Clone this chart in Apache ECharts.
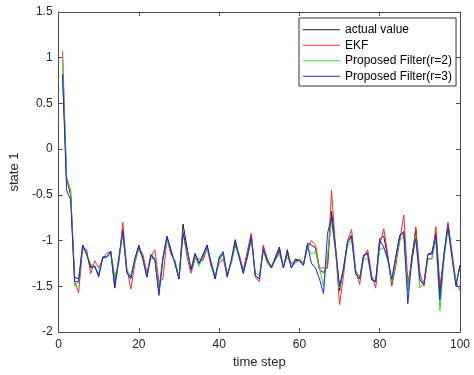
<!DOCTYPE html>
<html>
<head>
<meta charset="utf-8">
<script src="https://cdn.jsdelivr.net/npm/echarts@6/dist/echarts.min.js"></script>
<style>html,body{margin:0;padding:0;background:#fff}#c{width:474px;height:375px}</style>
</head>
<body>
<div id="c"></div>
<script>
const timeSteps = Array.from({length: 100}, (_, i) => i + 1);
const xTicks = [0, 20, 40, 60, 80, 100];
const yTicks = [-2, -1.5, -1, -0.5, 0, 0.5, 1, 1.5];
const seriesNames = ['actual value', 'EKF', 'Proposed Filter(r=2)', 'Proposed Filter(r=3)'];

const actualValue = [
  0.82, -0.32, -0.5, -1.4, -1.42, -1.05, -1.15, -1.28, -1.28, -1.38,
  -1.18, -1.18, -1.12, -1.52, -1.2, -0.88, -1.35, -1.4, -1.2, -1.05,
  -1.2, -1.4, -1.15, -1.2, -1.55, -1.18, -0.96, -1.1, -1.25, -1.42,
  -0.82, -1.08, -1.32, -1.14, -1.25, -1.15, -1.05, -1.25, -1.42, -1.2,
  -1.14, -1.4, -1.22, -0.99, -1.18, -1.36, -1.18, -0.94, -1.38, -1.42,
  -1.07, -1.2, -1.3, -1.18, -1.07, -1.3, -1.1, -1.3, -1.2, -1.22,
  -1.27, -1.03, -1.05, -1.08, -1.32, -1.35, -1.28, -0.68, -1.07, -1.55,
  -1.3, -1.0, -0.94, -1.36, -1.42, -1.16, -1.13, -1.43, -1.45, -0.98,
  -0.95, -1.18, -1.48, -1.18, -0.94, -0.9, -1.55, -1.18, -0.88, -1.43,
  -1.48, -1.15, -1.13, -0.92, -1.55, -1.15, -0.82, -1.17, -1.48, -1.27
];
const ekf = [
  1.07, -0.35, -0.45, -1.45, -1.57, -1.08, -1.1, -1.36, -1.22, -1.3,
  -1.2, -1.14, -1.12, -1.4, -1.25, -0.8, -1.3, -1.53, -1.25, -1.08,
  -1.15, -1.35, -1.18, -1.1, -1.45, -1.42, -0.98, -1.15, -1.22, -1.4,
  -0.9, -1.18, -1.36, -1.2, -1.2, -1.22, -1.08, -1.28, -1.38, -1.25,
  -1.2, -1.38, -1.25, -1.05, -1.15, -1.32, -1.12, -0.92, -1.4, -1.45,
  -1.05, -1.22, -1.28, -1.2, -1.12, -1.28, -1.15, -1.25, -1.23, -1.2,
  -1.25, -1.08, -1.0, -1.05, -1.3, -1.3, -1.3, -0.45, -1.1, -1.7,
  -1.38, -1.0, -0.88, -1.32, -1.48, -1.18, -1.1, -1.38, -1.52, -1.05,
  -0.87, -1.15, -1.5, -1.28, -1.0, -0.72, -1.45, -1.25, -0.85, -1.35,
  -1.5, -1.2, -1.2, -0.85, -1.5, -1.22, -0.8, -1.12, -1.45, -1.55
];
const filterR2 = [
  0.98, -0.3, -0.45, -1.5, -1.45, -1.08, -1.15, -1.25, -1.3, -1.35,
  -1.2, -1.18, -1.15, -1.42, -1.22, -0.92, -1.32, -1.38, -1.22, -1.1,
  -1.2, -1.38, -1.2, -1.2, -1.58, -1.2, -1.0, -1.12, -1.25, -1.4,
  -0.92, -1.12, -1.3, -1.18, -1.28, -1.18, -1.1, -1.22, -1.38, -1.22,
  -1.15, -1.36, -1.25, -1.05, -1.2, -1.32, -1.2, -1.0, -1.35, -1.38,
  -1.12, -1.25, -1.3, -1.22, -1.15, -1.28, -1.18, -1.28, -1.25, -1.2,
  -1.25, -1.08, -1.15, -1.12, -1.3, -1.5, -1.15, -0.78, -1.12, -1.52,
  -1.3, -1.05, -1.0, -1.32, -1.4, -1.2, -1.2, -1.4, -1.42, -1.1,
  -1.08, -1.22, -1.45, -1.2, -1.0, -0.95, -1.55, -1.22, -0.95, -1.52,
  -1.45, -1.2, -1.2, -1.0, -1.77, -1.2, -0.88, -1.18, -1.45, -1.3
];
const filterR3 = [
  0.82, -0.45, -0.55, -1.45, -1.45, -1.05, -1.15, -1.3, -1.28, -1.4,
  -1.18, -1.18, -1.12, -1.5, -1.2, -0.9, -1.35, -1.42, -1.2, -1.06,
  -1.2, -1.4, -1.16, -1.22, -1.6, -1.2, -0.95, -1.12, -1.25, -1.42,
  -0.92, -1.1, -1.32, -1.15, -1.25, -1.17, -1.05, -1.25, -1.42, -1.18,
  -1.12, -1.38, -1.22, -1.02, -1.18, -1.35, -1.18, -0.96, -1.38, -1.42,
  -1.1, -1.22, -1.3, -1.2, -1.1, -1.3, -1.12, -1.3, -1.22, -1.22,
  -1.27, -1.05, -1.25, -1.3, -1.42, -1.58, -0.92, -0.74, -1.1, -1.5,
  -1.3, -1.02, -0.96, -1.36, -1.42, -1.16, -1.15, -1.42, -1.45, -1.0,
  -1.07, -1.2, -1.42, -1.18, -0.95, -0.92, -1.69, -1.2, -0.98, -1.43,
  -1.48, -1.15, -1.15, -0.95, -1.65, -1.15, -0.85, -1.18, -1.5, -1.27
];

const FONT = '"Liberation Sans", Arial, Helvetica, sans-serif';
const AXIS_COLOR = '#4a4a4a';
const TEXT_COLOR = '#262626';
const colors = ['#1a1a1a', '#f02a2a', '#2ee02e', '#2424f0'];
const allData = [actualValue, ekf, filterR2, filterR3];

function pairs(arr) { return timeSteps.map((t, i) => [t, arr[i]]); }

const baseAxisLine = { show: true, onZero: false, lineStyle: { color: AXIS_COLOR, width: 1 } };
const baseTick = { show: true, inside: true, length: 4, lineStyle: { color: AXIS_COLOR } };

const chart = echarts.init(document.getElementById('c'), null, { renderer: 'canvas' });
chart.setOption({
  animation: false,
  backgroundColor: '#ffffff',
  color: colors,
  grid: { left: 48, right: 14, top: 12, bottom: 43, containLabel: false },
  legend: {
    data: seriesNames,
    orient: 'vertical',
    left: 299,
    top: 18,
    padding: [4, 4, 2, 4],
    icon: 'rect',
    itemWidth: 37,
    itemHeight: 1,
    itemGap: 0,
    backgroundColor: '#ffffff',
    borderColor: '#333333',
    borderWidth: 1,
    borderRadius: 0,
    textStyle: { fontFamily: FONT, fontSize: 12, color: '#000', lineHeight: 15.5 }
  },
  xAxis: [
    {
      type: 'value', min: xTicks[0], max: xTicks[xTicks.length - 1], interval: 20,
      name: 'time step', nameLocation: 'middle', nameGap: 20,
      nameTextStyle: { fontFamily: FONT, fontSize: 13, color: TEXT_COLOR },
      axisLine: baseAxisLine, axisTick: baseTick,
      axisLabel: { fontFamily: FONT, fontSize: 12, color: TEXT_COLOR, margin: 7 },
      splitLine: { show: false }
    },
    {
      type: 'value', position: 'top', min: 0, max: 100, interval: 20,
      axisLine: baseAxisLine, axisTick: baseTick,
      axisLabel: { show: false }, splitLine: { show: false }
    }
  ],
  yAxis: [
    {
      type: 'value', min: yTicks[0], max: yTicks[yTicks.length - 1], interval: 0.5,
      name: 'state 1', nameLocation: 'middle', nameGap: 30, nameRotate: 90,
      nameTextStyle: { fontFamily: FONT, fontSize: 13, color: TEXT_COLOR },
      axisLine: baseAxisLine, axisTick: baseTick,
      axisLabel: { fontFamily: FONT, fontSize: 12, color: TEXT_COLOR, margin: 6 },
      splitLine: { show: false }
    },
    {
      type: 'value', position: 'right', min: -2, max: 1.5, interval: 0.5,
      axisLine: baseAxisLine, axisTick: baseTick,
      axisLabel: { show: false }, splitLine: { show: false }
    }
  ],
  series: seriesNames.map((name, k) => ({
    name: name,
    type: 'line',
    data: pairs(allData[k]),
    symbol: 'none',
    showSymbol: false,
    lineStyle: { width: 1, color: colors[k] },
    itemStyle: { color: colors[k] },
    z: 2 + k
  }))
});
</script>
</body>
</html>
